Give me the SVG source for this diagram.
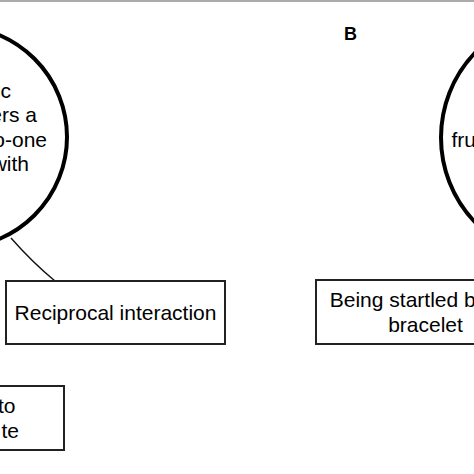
<svg xmlns="http://www.w3.org/2000/svg" width="474" height="474" viewBox="0 0 474 474">
<style>
.t{font-family:"Liberation Sans",Arial,sans-serif;font-size:21px;fill:#000}
.c{fill:#fff;stroke:#000;stroke-width:4}
.b{fill:#fff;stroke:#222;stroke-width:2}
</style>
<rect x="0" y="0" width="474" height="474" fill="#fff"/>
<rect x="0" y="0" width="474" height="2" fill="#aaa"/>
<g id="connectors">
<path d="M 11 238 Q 32 262 55 281" fill="none" stroke="#111" stroke-width="1.4"/>
</g>
<g id="circle-left">
<ellipse class="c" cx="-45" cy="137" rx="112" ry="111"/>
<text class="t" text-anchor="end" x="11" y="97.5">c</text>
<text class="t" text-anchor="end" x="37" y="122">ers a</text>
<text class="t" text-anchor="end" x="47" y="146.5">to-one</text>
<text class="t" text-anchor="end" x="29" y="171">with</text>
</g>
<g id="label-B">
<text x="344" y="40" style="font-family:'Liberation Sans',Arial,sans-serif;font-size:18px;font-weight:bold;fill:#000">B</text>
</g>
<g id="circle-right">
<ellipse class="c" cx="560" cy="137.5" rx="119" ry="121"/>
<text class="t" x="451.5" y="147">fru</text>
</g>
<g id="box-reciprocal">
<rect class="b" x="6" y="281" width="219" height="63"/>
<text class="t" text-anchor="middle" x="115.5" y="320">Reciprocal interaction</text>
</g>
<g id="box-startled">
<rect class="b" x="316" y="280" width="170" height="64"/>
<text class="t" text-anchor="middle" x="425.5" y="307">Being startled by the</text>
<text class="t" text-anchor="middle" x="425.5" y="332">bracelet</text>
</g>
<g id="box-bottom-left">
<rect class="b" x="-150" y="386" width="214" height="64"/>
<text class="t" text-anchor="end" x="15.5" y="413">to</text>
<text class="t" text-anchor="end" x="19" y="438">te</text>
</g>
</svg>
